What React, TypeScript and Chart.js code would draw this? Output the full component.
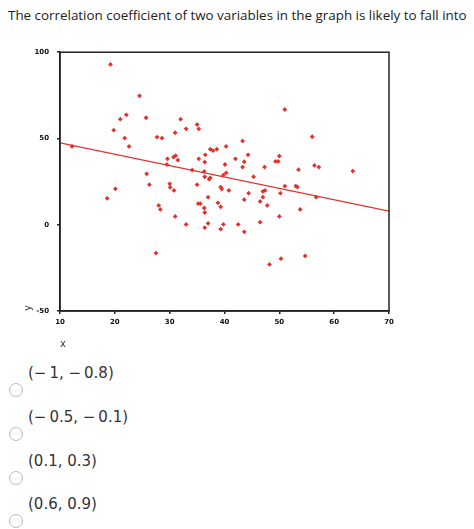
import React, { useEffect, useRef } from "react";
import { Chart, registerables } from "chart.js";

Chart.register(...registerables);

const xValues = [
  19.2, 24.5, 22.1, 21.0, 19.8, 21.8, 22.6, 25.7, 27.7, 28.6, 32.0, 33.0, 31.0, 35.0, 35.3, 51.0, 43.3,
  56.0, 12.2, 29.6, 30.7, 31.1, 31.5, 29.5, 34.1, 25.8, 26.3, 20.1, 18.6, 30.0, 30.1, 30.8, 28.0, 28.3,
  31.0, 33.0, 27.5, 35.3, 36.5, 37.4, 37.9, 38.6, 40.3, 36.4, 40.1, 36.3, 36.4, 37.2, 37.4, 39.8, 40.3,
  35.0, 39.3, 39.5, 40.8, 37.0, 35.2, 35.6, 36.3, 36.4, 38.8, 39.3, 37.0, 36.4, 39.3, 39.8, 42.5, 43.6,
  42.0, 44.3, 43.6, 43.3, 45.3, 44.4, 43.6, 47.0, 47.4, 47.0, 46.5, 47.8, 46.5, 47.3, 49.3, 49.8, 50.0,
  50.2, 51.0, 50.0, 48.2, 50.3, 54.7, 53.5, 53.0, 53.3, 53.8, 56.4, 57.2, 56.7, 63.4,
];
const yValues = [
  92.9, 74.7, 63.7, 61.2, 54.8, 50.2, 45.4, 62.0, 50.8, 50.2, 61.2, 55.6, 53.3, 58.1, 55.6, 66.8, 48.6,
  51.0, 45.4, 38.2, 39.2, 40.0, 37.5, 34.9, 31.7, 29.5, 23.2, 20.8, 15.3, 23.7, 21.6, 19.9, 11.2, 8.9,
  4.8, 0.2, -16.4, 38.2, 40.5, 43.8, 43.0, 43.8, 45.4, 36.3, 34.9, 30.9, 27.8, 26.3, 27.2, 28.8, 30.1,
  23.2, 21.8, 20.7, 19.9, 16.0, 12.2, 12.2, 9.7, 7.1, 12.7, 10.4, 0.8, -1.7, -2.5, 0.2, 0.2, -4.1,
  38.2, 40.5, 36.5, 33.4, 27.8, 18.3, 14.5, 19.3, 19.9, 16.0, 13.5, 11.2, 1.5, 33.4, 36.7, 36.7, 39.8,
  18.3, 22.4, 4.8, -23.0, -19.7, -18.1, 31.9, 22.4, 21.8, 8.9, 34.4, 33.4, 16.0, 31.1,
];
const fitX = [10, 70];
const fitY = [47.5, 7.9];
const xTicks = [10, 20, 30, 40, 50, 60, 70];
const yTicks = [-50, 0, 50, 100];
const answers = ["(−\u20091, −\u20090.8)", "(−\u20090.5, −\u20090.1)", "(0.1, 0.3)", "(0.6, 0.9)"];

const RED = "#e3312b";
const AXIS = "#222";

const frame = {
  id: "frame",
  afterDraw(chart: Chart) {
    const { ctx, chartArea } = chart;
    ctx.save();
    ctx.strokeStyle = AXIS;
    ctx.lineWidth = 1.5;
    ctx.strokeRect(chartArea.left, chartArea.top, chartArea.right - chartArea.left, chartArea.bottom - chartArea.top);
    ctx.restore();
  },
};

const Scatter: React.FC = () => {
  const ref = useRef<HTMLCanvasElement | null>(null);
  useEffect(() => {
    let chart: Chart | null = null;
    if (ref.current) {
      chart = new Chart(ref.current, {
        type: "scatter",
        data: {
          datasets: [
            {
              data: xValues.map((x, i) => ({ x, y: yValues[i] })),
              backgroundColor: RED,
              borderColor: RED,
              pointStyle: "rectRot",
              pointRadius: 2.4,
              borderWidth: 0,
            },
            {
              type: "line",
              data: fitX.map((x, i) => ({ x, y: fitY[i] })),
              borderColor: RED,
              borderWidth: 1.2,
              pointRadius: 0,
              fill: false,
            },
          ],
        },
        options: {
          animation: false,
          responsive: false,
          events: [],
          layout: { padding: { left: 0, right: 11, top: 12, bottom: 0 } },
          plugins: { legend: { display: false }, tooltip: { enabled: false } },
          scales: {
            x: {
              type: "linear",
              min: 10,
              max: 70,
              afterBuildTicks: (s: any) => {
                s.ticks = xTicks.map((v) => ({ value: v }));
              },
              afterFit: (s: any) => {
                s.height = 49;
              },
              grid: { drawOnChartArea: false, tickLength: 3, color: AXIS, lineWidth: 1.5 },
              border: { color: AXIS, width: 1.5 },
              ticks: { color: "#111", font: { size: 7, weight: "bold", family: "DejaVu Sans" }, padding: 4, maxRotation: 0 },
              title: {
                display: true,
                text: "x",
                align: "start",
                color: "#333",
                font: { size: 10, family: "DejaVu Sans" },
                padding: { top: 2, bottom: 10 },
              },
            },
            y: {
              type: "linear",
              min: -50,
              max: 100,
              afterBuildTicks: (s: any) => {
                s.ticks = yTicks.map((v) => ({ value: v }));
              },
              afterFit: (s: any) => {
                s.width = 60;
              },
              grid: { drawOnChartArea: false, tickLength: 3, color: AXIS, lineWidth: 1.5 },
              border: { color: AXIS, width: 1.5 },
              ticks: { color: "#111", font: { size: 7, weight: "bold", family: "DejaVu Sans" }, padding: 8 },
              title: {
                display: true,
                text: "y",
                align: "start",
                color: "#333",
                font: { size: 10, family: "DejaVu Sans" },
                padding: { top: 22, bottom: 0 },
              },
            },
          },
        },
        plugins: [frame],
      });
    }
    return () => {
      if (chart) chart.destroy();
    };
  }, []);
  return <canvas ref={ref} width={400} height={320} style={{ position: "absolute", left: 0, top: 40 }} />;
};

export default function App() {
  useEffect(() => {
    document.body.style.margin = "0";
  }, []);
  return (
    <div style={{ position: "relative", width: 474, height: 529, background: "#fff", overflow: "hidden" }}>
      <div
        style={{
          position: "absolute",
          left: 8,
          top: 6,
          fontFamily: "'Open Sans'",
          fontSize: 13.4,
          color: "#222",
          whiteSpace: "nowrap",
        }}
      >
        The correlation coefficient of two variables in the graph is likely to fall into
      </div>
      <Scatter />
      {answers.map((a, i) => (
        <div key={a}>
          <div
            style={{
              position: "absolute",
              left: 28,
              top: 364 + i * 43.8,
              fontFamily: "'DejaVu Sans'",
              fontSize: 15,
              color: "#333",
              whiteSpace: "nowrap",
            }}
          >
            {a}
          </div>
          <div
            style={{
              position: "absolute",
              left: 9,
              top: 383 + i * 43.8,
              width: 12,
              height: 12,
              borderRadius: "50%",
              border: "1px solid #bbb",
              background: "#fff",
            }}
          />
        </div>
      ))}
    </div>
  );
}
